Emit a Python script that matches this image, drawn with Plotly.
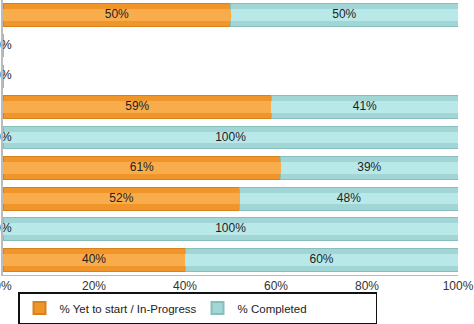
import plotly.graph_objects as go

# Status share per row (percent), top row first
rows = ["Row 1", "Row 2", "Row 3", "Row 4", "Row 5", "Row 6", "Row 7", "Row 8", "Row 9"]
yet_to_start = [50, 0, 0, 59, 0, 61, 52, 0, 40]
completed = [50, 0, 0, 41, 100, 39, 48, 100, 60]
x_ticks = [0, 20, 40, 60, 80, 100]
x_tick_text = ["0%", "20%", "40%", "60%", "80%", "100%"]

ORANGE = "#F0952A"
ORANGE_EDGE = "#D5821F"
ORANGE_LIGHT = "#F9AC4C"
TEAL = "#A2D6D6"
TEAL_EDGE = "#88BEBE"
TEAL_LIGHT = "#B8E8E8"
FONT = "Liberation Sans, Arial, sans-serif"

fig = go.Figure()

# Main stacked bars
fig.add_trace(go.Bar(
    y=rows, x=yet_to_start, orientation="h", width=0.75,
    name="% Yet to start / In-Progress",
    marker=dict(color=ORANGE, line=dict(color=ORANGE_EDGE, width=1)),
    hoverinfo="skip",
))
fig.add_trace(go.Bar(
    y=rows, x=completed, orientation="h", width=0.75,
    name="% Completed",
    marker=dict(color=TEAL, line=dict(color=TEAL_EDGE, width=1)),
    hoverinfo="skip",
))

# Lighter centre band for a shaded, rounded look
fig.add_trace(go.Bar(
    y=rows, x=yet_to_start, orientation="h", width=0.38, yaxis="y2",
    marker=dict(color=ORANGE_LIGHT, line=dict(width=0)),
    showlegend=False, hoverinfo="skip",
))
fig.add_trace(go.Bar(
    y=rows, x=completed, orientation="h", width=0.38, yaxis="y2",
    marker=dict(color=TEAL_LIGHT, line=dict(width=0)),
    showlegend=False, hoverinfo="skip",
))

# Segment labels centred on each segment
yet_mid = [v / 2 for v in yet_to_start]
done_mid = [y + c / 2 for y, c in zip(yet_to_start, completed)]
fig.add_trace(go.Scatter(
    y=rows, x=yet_mid, mode="text", yaxis="y2",
    text=[f"{v}%" for v in yet_to_start],
    textfont=dict(family=FONT, size=12, color="#222222"),
    cliponaxis=False, showlegend=False, hoverinfo="skip",
))
done_rows = [r for r, c in zip(rows, completed) if c > 0]
fig.add_trace(go.Scatter(
    y=done_rows, x=[m for m, c in zip(done_mid, completed) if c > 0],
    mode="text", yaxis="y2",
    text=[f"{c}%" for c in completed if c > 0],
    textfont=dict(family=FONT, size=12, color="#222222"),
    cliponaxis=False, showlegend=False, hoverinfo="skip",
))

fig.update_layout(
    width=474, height=324,
    margin=dict(l=3, r=16, t=0, b=49, autoexpand=False),
    barmode="stack",
    plot_bgcolor="white", paper_bgcolor="white",
    font=dict(family=FONT, size=12, color="#333333"),
    showlegend=True,
    legend=dict(
        orientation="h", x=0.033, xanchor="left",
        yref="container", y=0.0, yanchor="bottom",
        bordercolor="#111111", borderwidth=1.5,
        entrywidth=133, entrywidthmode="pixels",
        font=dict(family=FONT, size=11.5, color="#222222"),
        itemsizing="constant", traceorder="normal",
        tracegroupgap=0,
    ),
    xaxis=dict(
        range=[0, 100], tickvals=x_ticks, ticktext=x_tick_text,
        showgrid=False, zeroline=False, showline=True, linecolor="#BBBBBB",
        tickfont=dict(family=FONT, size=12, color="#333333"),
        ticklabeloverflow="allow",
        fixedrange=True,
    ),
    yaxis=dict(
        categoryorder="array", categoryarray=rows[::-1],
        showticklabels=False, showgrid=False, zeroline=False,
        showline=True, linecolor="#BBBBBB", linewidth=1.5,
        fixedrange=True,
    ),
    yaxis2=dict(
        overlaying="y", matches="y",
        categoryorder="array", categoryarray=rows[::-1],
        showticklabels=False, showgrid=False, zeroline=False,
        showline=False, fixedrange=True,
    ),
)

fig.write_html("out.html")
